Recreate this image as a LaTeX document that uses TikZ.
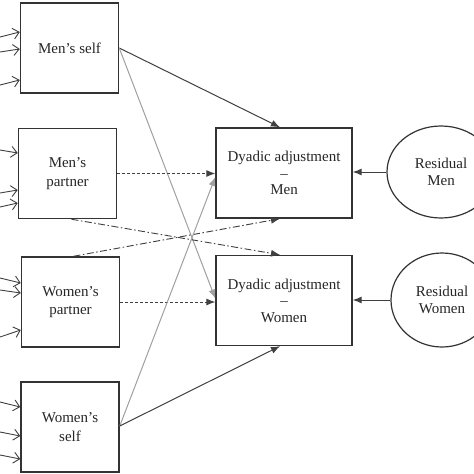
\documentclass[tikz,border=0pt]{standalone}
\usepackage{fontspec}
\setmainfont{Liberation Serif}
\usetikzlibrary{arrows.meta,shapes.geometric,calc}
\definecolor{boxline}{HTML}{333333}
\definecolor{darkline}{HTML}{404040}
\definecolor{greyline}{HTML}{A0A0A0}
\begin{document}
\begin{tikzpicture}[x=1pt,y=-1pt,
  every node/.style={font=\fontsize{15}{17.5}\selectfont, text=black!85},
  leftbox/.style={draw=boxline, line width=1.5pt, minimum width=98pt, minimum height=90pt, align=center, inner sep=0pt},
  dyabox/.style={draw=boxline, line width=1.4pt, minimum width=136pt, minimum height=90pt, align=center, inner sep=0pt},
  resid/.style={ellipse, draw=boxline, line width=1.2pt, align=center, inner sep=0pt},
  inarrow/.style={draw=darkline, line width=0.9pt, -{Straight Barb[length=6pt,width=11pt,line width=0.9pt]}},
  solidpath/.style={draw=darkline, line width=1pt, -{Latex[length=9pt,width=7pt]}},
  greypath/.style={draw=greyline, line width=1pt, -{Latex[length=9pt,width=7pt]}},
  dashpath/.style={draw=darkline, line width=0.9pt, dash pattern=on 3pt off 2pt, -{Latex[length=9pt,width=7pt]}},
  dotdashpath/.style={draw=darkline, line width=0.9pt, dash pattern=on 7pt off 2.5pt on 1.5pt off 2.5pt, -{Latex[length=9pt,width=7pt]}}
]
\useasboundingbox (0,0) rectangle (474,474);
\fill[white] (0,0) rectangle (474,474);

% left boxes
\node[leftbox] (ms) at (69.5,48) {Men’s self};
\node[leftbox] (mp) at (67.5,173.5) {Men’s\\[1pt]partner};
\node[leftbox] (wp) at (70.5,302) {Women’s\\[1pt]partner};
\node[leftbox] (ws) at (70,427) {Women’s\\[1pt]self};

% dyadic boxes
\node[dyabox] (dm) at (284,173) {Dyadic adjustment\\[-1pt]–\\[-1pt]Men};
\node[dyabox] (dw) at (284,300.5) {Dyadic adjustment\\[-1pt]–\\[-1pt]Women};

% residuals
\node[resid, minimum width=108pt, minimum height=92pt] (rm) at (441,172) {Residual\\Men};
\node[resid, minimum width=102pt, minimum height=94pt] (rw) at (442,300) {Residual\\Women};

% input indicator arrows (free ends)
\coordinate (a1) at (0,37);  \coordinate (a2) at (0,52);  \coordinate (a3) at (0,85);
\coordinate (b1) at (0,150); \coordinate (b2) at (0,193); \coordinate (b3) at (0,207);
\coordinate (c1) at (0,278); \coordinate (c2) at (0,290); \coordinate (c3) at (0,337);
\coordinate (d1) at (0,402); \coordinate (d2) at (0,432); \coordinate (d3) at (0,455);
\draw[inarrow] (a1) -- ([yshift=16pt]ms.west);
\draw[inarrow] (a2) -- ([yshift=-1pt]ms.west);
\draw[inarrow] (a3) -- ([yshift=-32pt]ms.west);
\draw[inarrow] (b1) -- ([yshift=20.5pt]mp.west);
\draw[inarrow] (b2) -- ([yshift=-16.5pt]mp.west);
\draw[inarrow] (b3) -- ([yshift=-29.5pt]mp.west);
\draw[inarrow] (c1) -- ([yshift=19pt]wp.west);
\draw[inarrow] (c2) -- ([yshift=9pt]wp.west);
\draw[inarrow] (c3) -- ([yshift=-28pt]wp.west);
\draw[inarrow] (d1) -- ([yshift=20pt]ws.west);
\draw[inarrow] (d2) -- ([yshift=-9pt]ws.west);
\draw[inarrow] (d3) -- ([yshift=-32pt]ws.west);

% paths
\draw[solidpath] (ms.east) -- ([xshift=-4pt]dm.north);
\draw[greypath] (ms.east) -- ([yshift=2pt]dw.west);
\draw[dashpath] (mp.east) -- (mp.east -| dm.west);
\draw[dotdashpath] ([xshift=4pt]mp.south) -- ([xshift=-4pt]dw.north);
\draw[dotdashpath] ([xshift=3pt]wp.north) -- ([xshift=-4pt]dm.south);
\draw[dashpath] (wp.east) -- (wp.east -| dw.west);
\draw[greypath] ([yshift=1pt]ws.east) -- ([yshift=-4pt]dm.west);
\draw[solidpath] ([yshift=1pt]ws.east) -- ([xshift=-4pt]dw.south);

% residual arrows
\draw[solidpath] (rm.west) -- (rm.west -| dm.east);
\draw[solidpath] (rw.west) -- (rw.west -| dw.east);
\end{tikzpicture}
\end{document}
